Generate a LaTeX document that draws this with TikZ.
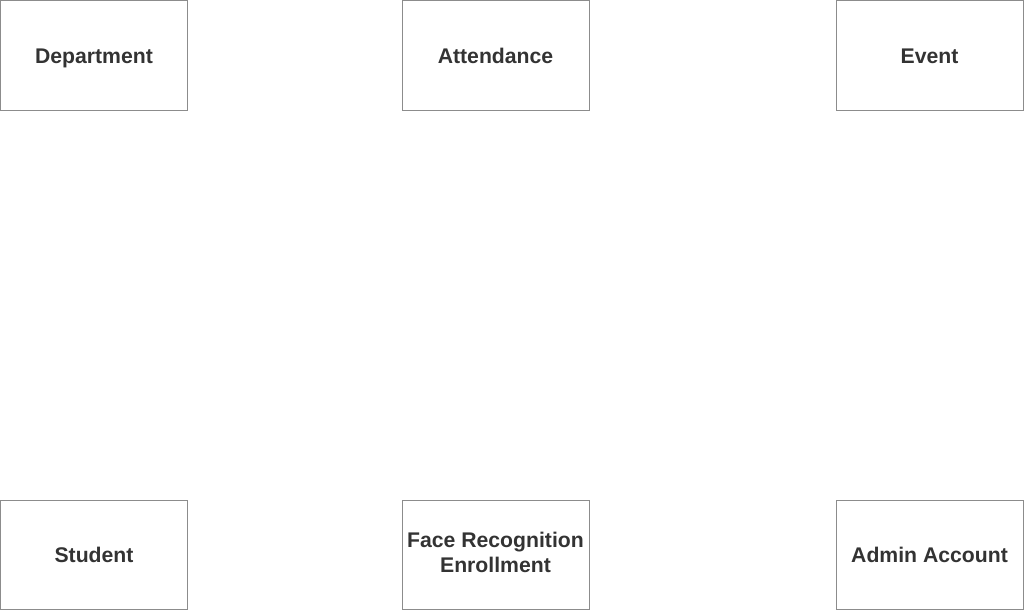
\documentclass[tikz,border=0pt]{standalone}
\usepackage{fontspec}
\setmainfont{Liberation Sans}
\usetikzlibrary{positioning}

\definecolor{boxline}{HTML}{8C8C8C}
\definecolor{boxtext}{HTML}{333333}

\newcommand\entstrut{\rule[-0.22em]{0pt}{1.17em}}

\tikzset{
	entity/.style={rectangle, draw=boxline, line width=1pt, text=boxtext,
		minimum width=187pt, minimum height=109pt, inner sep=2pt,
		align=center, font=\fontsize{21.2}{25}\selectfont\bfseries,
		execute at begin node=\entstrut, execute at end node=\entstrut}
}

\begin{document}
\begin{tikzpicture}[x=1pt, y=-1pt]
	\useasboundingbox (0,0) rectangle (1024,610);

	\draw (94, 55.5) node[entity] (department) {Department};
	\draw (495.5, 55.5) node[entity] (attendance) {Attendance};
	\draw (929.5, 55.5) node[entity] (event) {Event};

	\draw (94, 554.5) node[entity] (student) {Student};
	\draw (495.5, 554.5) node[entity] (enrollment) {Face Recognition\\Enrollment};
	\draw (929.5, 554.5) node[entity] (admin) {Admin Account};

\end{tikzpicture}
\end{document}
